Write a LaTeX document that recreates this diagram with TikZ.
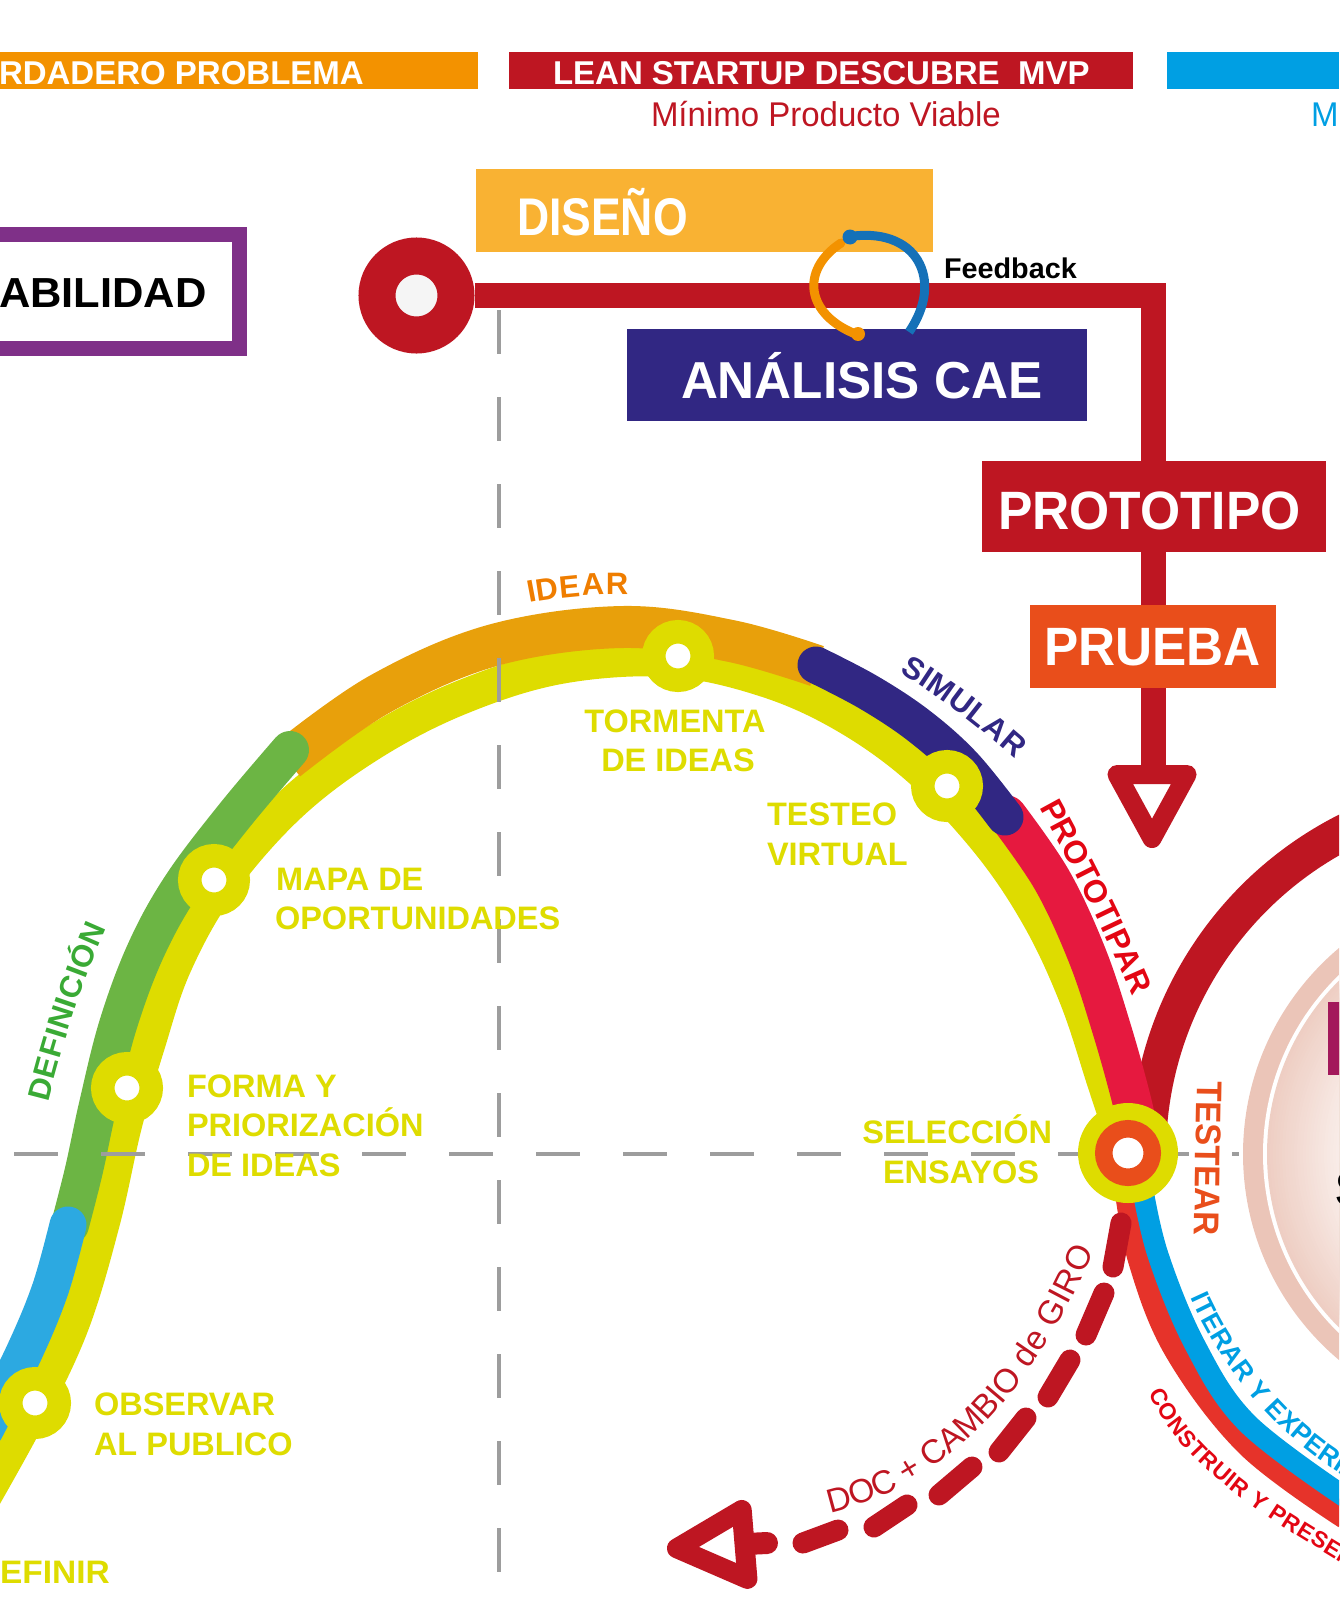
\documentclass[tikz,border=0pt]{standalone}
\usepackage{fontspec}
\usepackage{graphicx}
\setmainfont{Liberation Sans}
\newcommand{\myfs}[1]{\fontsize{#1}{#1}\selectfont}
\definecolor{cYel}{HTML}{DEDC00}
\definecolor{cBarOr}{HTML}{F39200}
\definecolor{cDark}{HTML}{BE1622}
\definecolor{cSky}{HTML}{009FE3}
\definecolor{cDis}{HTML}{F9B233}
\definecolor{cNavy}{HTML}{312783}
\definecolor{cPur}{HTML}{7F3088}
\definecolor{cPru}{HTML}{E94E1B}
\definecolor{cBandOr}{HTML}{E8A00B}
\definecolor{cBandRed}{HTML}{E6193F}
\definecolor{cGreen}{HTML}{6CB544}
\definecolor{cLight}{HTML}{2CA9E1}
\definecolor{cLowRed}{HTML}{E6332A}
\definecolor{cGray}{HTML}{9D9D9D}
\definecolor{cPeach}{HTML}{EBC5B8}
\definecolor{cMag}{HTML}{A3195B}
\definecolor{cFeed}{HTML}{1571B8}
\definecolor{cTxtRed}{HTML}{E30613}
\definecolor{cTxtGr}{HTML}{3AAA35}
\definecolor{cTxtOr}{HTML}{EF7D00}
\tikzset{
  box/.style={rectangle,inner sep=0pt,outer sep=0pt},
  lab/.style={anchor=base west,inner sep=0pt,outer sep=0pt},
  ylab/.style={lab,text=cYel,font=\bfseries\myfs{32.5}},
  guide/.style={cGray,line width=3.5pt,dash pattern=on 44pt off 43pt},
  stop/.style={circle,inner sep=0pt,fill=white,draw=cYel,line width=23.5pt,minimum size=48.5pt},
  gdash/.style={cDark,line width=21pt,line cap=round}
}
% letters set one by one along a cubic curve
\newlength\bzW \newlength\bzA \newlength\bzB
\protected\def\bzsp{\ }
\newcommand{\bzmeasure}[2]{\pgfinterruptpicture\setbox0=\hbox{#2}\global#1=\wd0 \endpgfinterruptpicture}
\newcommand{\bzcurve}[8]{\def\bzax{#1}\def\bzay{#2}\def\bzbx{#3}\def\bzby{#4}\def\bzcx{#5}\def\bzcy{#6}\def\bzdx{#7}\def\bzdy{#8}}
\newcommand{\bztext}[4]{%
  \gdef\bzall{}%
  \foreach \bzc in {#4}{\xdef\bzall{\bzall\bzc}}%
  \bzmeasure{\bzW}{#2\bzall}%
  \gdef\bzpref{}%
  \foreach \bzc [count=\bzi] in {#4}{%
    \xdef\bzpref{\bzpref\bzc}%
    \bzmeasure{\bzA}{#2\bzpref}%
    \bzmeasure{\bzB}{#2\bzc}%
    \pgfmathsetmacro\bzt{(\bzA-0.5*\bzB)/\bzW}%
    \pgfmathsetmacro\bzu{1-\bzt}%
    \pgfmathsetmacro\bzx{\bzu*\bzu*\bzu*\bzax+3*\bzu*\bzu*\bzt*\bzbx+3*\bzu*\bzt*\bzt*\bzcx+\bzt*\bzt*\bzt*\bzdx}%
    \pgfmathsetmacro\bzy{\bzu*\bzu*\bzu*\bzay+3*\bzu*\bzu*\bzt*\bzby+3*\bzu*\bzt*\bzt*\bzcy+\bzt*\bzt*\bzt*\bzdy}%
    \pgfmathsetmacro\bzvx{3*\bzu*\bzu*(\bzbx-\bzax)+6*\bzu*\bzt*(\bzcx-\bzbx)+3*\bzt*\bzt*(\bzdx-\bzcx)}%
    \pgfmathsetmacro\bzvy{3*\bzu*\bzu*(\bzby-\bzay)+6*\bzu*\bzt*(\bzcy-\bzby)+3*\bzt*\bzt*(\bzdy-\bzcy)}%
    \pgfmathsetmacro\bzr{atan2(-(\bzvy),\bzvx)}%
    \node[name=#1\bzi,anchor=base,inner sep=0pt,rotate=\bzr,text=#3,font=#2] at (\bzx,\bzy) {\bzc};%
  }%
}
\begin{document}
\begin{tikzpicture}[x=1pt,y=-1pt]
\useasboundingbox (0,0) rectangle (1339,1600);
\clip (0,0) rectangle (1339,1600);
% right-hand circle: peach ring, white line, soft gradient built of discs
\fill[cPeach] (1512,1154) circle (269pt);
\fill[white] (1512,1154) circle (249pt);
\foreach \r in {245,242,...,130}{
  \pgfmathtruncatemacro\pc{85*(\r-130)/115}
  \fill[cPeach!\pc!white] (1512,1154) circle (\r pt);
}
\node[box,fill=cMag,minimum width=40pt,minimum height=73pt] (mag) at (1348,1038.5) {};
\node[lab,font=\bfseries\myfs{50}] (cutS) at (1335,1206) {S};
% big red arc and lower arcs
\draw[cDark,line width=36pt] (1148,1154) arc[start angle=180,end angle=110,radius=362pt];
\draw[cLowRed,line width=24pt] plot[smooth,tension=.6] coordinates {(1126,1185) (1140,1260) (1176,1350) (1248,1445) (1345,1517)};
\draw[cSky,line width=21pt] plot[smooth,tension=.6] coordinates {(1142,1185) (1158,1255) (1195,1345) (1247,1423) (1345,1497)};
% main curve
\draw[cYel,line width=34pt] plot[smooth,tension=.6] coordinates {(-30,1522) (28,1418) (72,1325) (103,1222) (125,1125) (148,1045) (175,965) (220,885) (290,805) (371,744) (460,698) (560,667) (670,660) (765,680) (845,716) (920,770) (990,845) (1040,920) (1077,1000) (1105,1085) (1128,1154)};
\draw[cBandOr,line width=42pt] plot[smooth,tension=.6] coordinates {(287,760) (380,694) (494,645) (623,627) (731,641) (817,666)};
\draw[cBandRed,line width=39pt,line cap=round] plot[smooth,tension=.6] coordinates {(1007,815) (1052,880) (1087,955) (1112,1030) (1132,1102) (1142,1150)};
\draw[cGreen,line width=38pt,line cap=round] plot[smooth,tension=.6] coordinates {(290,750) (235,815) (182,885) (146,950) (118,1025) (98,1105) (84,1170) (70,1225)};
\draw[cLight,line width=37pt,line cap=round] plot[smooth,tension=.6] coordinates {(68,1225) (50,1290) (23,1355) (-15,1430)};
\draw[cNavy,line width=37pt,line cap=round] plot[smooth,tension=.6] coordinates {(816,665) (868,692) (918,725) (963,765) (1005,817)};
% guides
\coordinate (gh1) at (14,1154);
\coordinate (gh2) at (1239,1154);
\coordinate (gv1) at (499,310);
\coordinate (gv2) at (499,1600);
\draw[guide] (gh1) -- (gh2);
\draw[guide] (gv1) -- (gv2);
% stops
\node[stop] (n1) at (35,1403) {};
\node[stop] (n2) at (127,1088) {};
\node[stop] (n3) at (214,880) {};
\node[stop] (n4) at (678,656) {};
\node[stop] (n5) at (947,786) {};
\node[circle,inner sep=0pt,fill=cYel,minimum size=100pt] (n6o) at (1128,1153) {};
\node[circle,inner sep=0pt,fill=white,draw=cPru,line width=17.5pt,minimum size=48.5pt] (n6) at (1128,1153) {};
% dashed return
\foreach \a/\b/\c/\d in {1121/1223/1113/1267,1104/1293/1086/1335,1070/1360/1048/1397,1026/1418/999/1452,972/1467/939/1495,907/1505/874/1527,838/1530/803/1543}
  \draw[gdash] (\a,\b) -- (\c,\d);
\draw[cDark,line width=22pt,line cap=round] (746,1544) -- (767,1543);
\draw[cDark,line width=20pt,line join=round] (677,1548.3) -- (741.7,1510) -- (747.4,1578.8) -- cycle;
% top bars
\node[box,fill=cBarOr,minimum width=478pt,minimum height=37pt] (barA) at (239,70.5) {};
\node[box,fill=cDark,minimum width=624pt,minimum height=37pt] (barB) at (821,70.5) {};
\node[box,fill=cSky,minimum width=172pt,minimum height=37pt] (barC) at (1253,70.5) {};
% red route
\coordinate (corner) at (1153.5,295.5);
\coordinate (routeEnd) at (1153.5,775);
\node[circle,inner sep=0pt,fill=white!96!black,draw=cDark,line width=37pt,minimum size=79pt] (ring) at (416.5,295.5) {};
\draw[cDark,line width=25pt] (ring.east) -- (corner) -- (routeEnd);
\node[box,draw=cPur,line width=15pt,minimum width=282pt,minimum height=113.5pt] (vbox) at (98.5,291.25) {};
\node[box,fill=cDis,minimum width=457pt,minimum height=83pt] (dis) at (704.5,210.5) {};
\node[box,fill=cNavy,minimum width=460pt,minimum height=92pt] (cae) at (857,375) {};
\node[box,fill=cDark,minimum width=344pt,minimum height=91pt] (proto) at (1154,506.5) {};
\node[box,fill=cPru,minimum width=246pt,minimum height=83pt] (prueba) at (1153,646.5) {};
\draw[cDark,line width=19pt,line join=round,fill=white] (1117,774.5) -- (1187,774.5) -- (1152,838.5) -- cycle;
% feedback loop
\coordinate (fbO1) at (841,243);
\coordinate (fbO2) at (858,335);
\coordinate (fbB1) at (847,237);
\coordinate (fbB2) at (909,332);
\draw[cBarOr,line width=9pt,line cap=round] (fbO1) .. controls (800,270) and (805,315) .. (fbO2);
\fill[cBarOr] (858,334) circle (7pt);
\draw[cFeed,line width=9pt] (fbB1) .. controls (917,225) and (945,280) .. (fbB2);
\fill[cFeed] (850,237) circle (7.5pt);
% texts
\node[lab,text=white,font=\bfseries\myfs{33}] (tA) at (-1,84.5) {RDADERO PROBLEMA};
\node[lab,text=white,font=\bfseries\myfs{33}] (tB) at (553,84.5) {LEAN STARTUP DESCUBRE\ \ MVP};
\node[lab,text=cDark,font=\myfs{33}] (tB2) at (651,127) {\scalebox{1}[1.04]{Mínimo Producto Viable}};
\node[lab,text=cSky,font=\myfs{33}] (tC2) at (1311,127) {\scalebox{1}[1.04]{M}};
\node[lab,font=\bfseries\myfs{42}] (tV) at (-1,307) {\scalebox{1.035}[1]{ABILIDAD}};
\node[lab,text=white,font=\bfseries\myfs{53}] (tD) at (517,235) {\scalebox{.84}[1]{DISEÑO}};
\node[lab,text=white,font=\bfseries\myfs{52}] (tC) at (681,398) {\scalebox{.985}[1]{ANÁLISIS CAE}};
\node[lab,text=white,font=\bfseries\myfs{54}] (tP) at (998,529) {\scalebox{.955}[1]{PROTOTIPO}};
\node[lab,text=white,font=\bfseries\myfs{54}] (tU) at (1044,665) {\scalebox{.95}[1]{PRUEBA}};
\node[lab,font=\bfseries\myfs{28.5}] (tF) at (944,278) {\scalebox{1.01}[1]{Feedback}};
% stop labels
\node[ylab] (l1a) at (94,1415) {OBSERVAR};
\node[ylab] (l1b) at (94,1455) {AL PUBLICO};
\node[ylab] (l0) at (0,1583) {\scalebox{1.03}[1]{EFINIR}};
\node[ylab] (l2a) at (187,1097) {FORMA Y};
\node[ylab] (l2b) at (187,1136) {PRIORIZACIÓN};
\node[ylab] (l2c) at (187,1176) {DE IDEAS};
\node[ylab] (l3a) at (276,890) {MAPA DE};
\node[ylab] (l3b) at (275,929) {OPORTUNIDADES};
\node[ylab,anchor=base] (l4a) at (675,732) {TORMENTA};
\node[ylab,anchor=base] (l4b) at (678,771) {DE IDEAS};
\node[ylab] (l5a) at (767,825) {TESTEO};
\node[ylab] (l5b) at (767,865) {VIRTUAL};
\node[ylab,anchor=base east] (l6a) at (1052,1143) {SELECCIÓN};
\node[ylab,anchor=base east] (l6b) at (1039,1183) {ENSAYOS};
\node[lab,text=cPru,font=\bfseries\myfs{33},rotate=-91] (tT) at (1197,1081) {\scalebox{1}[1.08]{TESTEAR}};
% curved labels
\bzcurve{48}{1103}{63}{1043}{82}{983}{107}{928}
\bztext{def}{\bfseries\myfs{31}}{cTxtGr}{D,E,F,I,N,I,C,I,Ó,N}
\bzcurve{530}{603}{560}{597}{595}{594}{629}{595}
\bztext{ide}{\bfseries\myfs{31}}{cTxtOr}{I,D,E,A,R}
\bzcurve{900}{673}{940}{697}{978}{727}{1016}{760}
\bztext{sim}{\bfseries\myfs{31}}{cNavy}{S,I,M,U,L,A,R}
\bzcurve{1040}{808}{1072}{866}{1104}{930}{1133}{997}
\bztext{pro}{\bfseries\myfs{32}}{cTxtRed}{P,R,O,T,O,T,I,P,A,R}
\bzcurve{1190}{1297}{1225}{1375}{1285}{1445}{1357}{1483}
\bztext{ite}{\bfseries\myfs{26.5}}{cSky}{I,T,E,R,A,R,\bzsp,Y,\bzsp,E,X,P,E,R,I,M}
\bzcurve{1148}{1393}{1188}{1475}{1277}{1523}{1350}{1568}
\bztext{con}{\bfseries\myfs{23}}{cTxtRed}{C,O,N,S,T,R,U,I,R,\bzsp,Y,\bzsp,P,R,E,S,E,N}
\bzcurve{830}{1513}{958}{1484}{1041}{1374}{1095}{1250}
\bztext{doc}{\myfs{33.5}}{cDark}{D,O,C,\bzsp,+,\bzsp,C,A,M,B,I,O,\bzsp,d,e,\bzsp,G,I,R,O}
\end{tikzpicture}
\end{document}
